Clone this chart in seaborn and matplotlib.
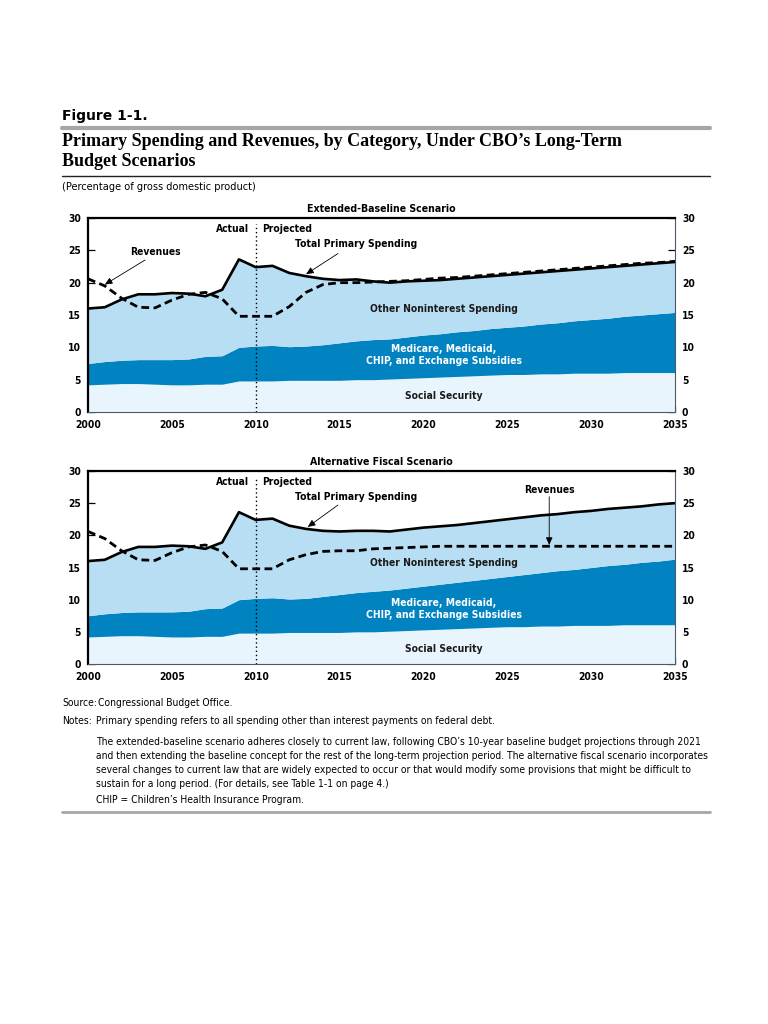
import numpy as np
import pandas as pd
import matplotlib
matplotlib.use("Agg")
import matplotlib.pyplot as plt
import seaborn as sns

years = list(range(2000, 2036))

social_security = [4.2, 4.3, 4.4, 4.4, 4.3, 4.2, 4.2, 4.3, 4.3, 4.8, 4.8, 4.8, 4.9, 4.9, 4.9, 4.9, 5.0, 5.0,
                   5.1, 5.2, 5.3, 5.4, 5.5, 5.6, 5.7, 5.8, 5.8, 5.9, 5.9, 6.0, 6.0, 6.0, 6.1, 6.1, 6.1, 6.1]

# cumulative top of the Medicare/Medicaid band
health_base = [7.5, 7.8, 8.0, 8.1, 8.1, 8.1, 8.2, 8.6, 8.7, 10.0, 10.2, 10.3, 10.1, 10.2, 10.4, 10.7, 11.0, 11.2,
               11.3, 11.6, 11.9, 12.1, 12.4, 12.6, 12.9, 13.1, 13.3, 13.6, 13.8, 14.1, 14.3, 14.5, 14.8, 15.0, 15.2, 15.4]
health_alt = [7.5, 7.8, 8.0, 8.1, 8.1, 8.1, 8.2, 8.6, 8.7, 10.0, 10.2, 10.3, 10.1, 10.2, 10.5, 10.8, 11.1, 11.3,
              11.5, 11.8, 12.1, 12.4, 12.7, 13.0, 13.3, 13.6, 13.9, 14.2, 14.5, 14.7, 15.0, 15.3, 15.5, 15.8, 16.0, 16.3]

total_base = [16.0, 16.2, 17.4, 18.2, 18.2, 18.4, 18.3, 17.9, 18.9, 23.6, 22.4, 22.6, 21.5, 21.0, 20.6, 20.4, 20.5, 20.2,
              20.0, 20.2, 20.3, 20.4, 20.6, 20.8, 21.0, 21.2, 21.4, 21.6, 21.8, 22.0, 22.2, 22.4, 22.6, 22.8, 23.0, 23.2]
total_alt = [16.0, 16.2, 17.4, 18.2, 18.2, 18.4, 18.3, 17.9, 18.9, 23.6, 22.4, 22.6, 21.5, 21.0, 20.7, 20.6, 20.7, 20.7,
             20.6, 20.9, 21.2, 21.4, 21.6, 21.9, 22.2, 22.5, 22.8, 23.1, 23.3, 23.6, 23.8, 24.1, 24.3, 24.5, 24.8, 25.0]

revenue_base = [20.6, 19.5, 17.6, 16.2, 16.1, 17.3, 18.2, 18.5, 17.5, 14.8, 14.8, 14.8, 16.3, 18.5, 19.7, 20.0, 20.0, 20.1,
                20.2, 20.3, 20.5, 20.7, 20.8, 21.0, 21.2, 21.4, 21.6, 21.8, 22.0, 22.2, 22.4, 22.6, 22.8, 23.0, 23.1, 23.3]
revenue_alt = [20.6, 19.5, 17.6, 16.2, 16.1, 17.3, 18.2, 18.5, 17.5, 14.8, 14.8, 14.8, 16.2, 17.0, 17.5, 17.6, 17.6, 17.9,
               18.0, 18.1, 18.2, 18.3, 18.3, 18.3, 18.3, 18.3, 18.3, 18.3, 18.3, 18.3, 18.3, 18.3, 18.3, 18.3, 18.3, 18.3]

y_ticks = [0, 5, 10, 15, 20, 25, 30]
x_ticks = [2000, 2005, 2010, 2015, 2020, 2025, 2030, 2035]

C_SS = "#e9f5fd"
C_HEALTH = "#0083c0"
C_OTHER = "#b8def4"

sns.set_style("ticks")
NARROW = ["Liberation Sans Narrow", "DejaVu Sans"]
plt.rcParams["font.family"] = NARROW
plt.rcParams["font.stretch"] = "condensed"
plt.rcParams["text.color"] = "black"
plt.rcParams["xtick.color"] = "black"
plt.rcParams["ytick.color"] = "black"
plt.rcParams["axes.titlecolor"] = "black"

fig = plt.figure(figsize=(7.68, 10.24), dpi=100)


def fx(px):
    return px / 768


def fy(py):
    return 1 - py / 1024


def panel(rect, title, ss, health, total, rev, ann):
    ax = fig.add_axes(rect)
    df = pd.DataFrame({"year": years, "ss": ss, "health": health, "total": total, "rev": rev})
    ax.fill_between(df["year"], 0, df["ss"], color=C_SS, lw=0)
    ax.fill_between(df["year"], df["ss"], df["health"], color=C_HEALTH, lw=0)
    ax.fill_between(df["year"], df["health"], df["total"], color=C_OTHER, lw=0)
    sns.lineplot(data=df, x="year", y="rev", ax=ax, color="black", lw=2.0, linestyle=(0, (2.8, 1.6)))
    sns.lineplot(data=df, x="year", y="total", ax=ax, color="black", lw=1.9)
    ax.axvline(2010, ymin=0, ymax=0.97, color="black", lw=1.0, linestyle=(0, (1, 2)))

    ax.set_xlim(2000, 2035)
    ax.set_ylim(0, 30)
    ax.set_xticks(x_ticks)
    ax.set_yticks(y_ticks)
    ax.set_xlabel("")
    ax.set_ylabel("")
    ax.tick_params(axis="both", direction="in", length=5, width=0.9, labelsize=7.4, pad=5,
                   left=True, right=True, labelleft=True, labelright=True)
    ax.tick_params(axis="x", length=4, pad=6)
    for lbl in ax.get_xticklabels() + ax.get_yticklabels():
        lbl.set_fontweight("bold")
    for t in ax.yaxis.get_major_ticks():
        t.label2.set_fontweight("bold")
    for s in ["left", "top"]:
        ax.spines[s].set_linewidth(1.6)
        ax.spines[s].set_color("black")
    for s in ["right", "bottom"]:
        ax.spines[s].set_linewidth(0.8)
        ax.spines[s].set_color("#4a5a66")
    ax.set_title(title, fontsize=7.6, fontweight="bold", pad=4)

    tk = dict(fontsize=7.4, fontweight="bold", ha="center", va="center")
    ax.text(2009.6, 28.3, "Actual", ha="right", va="center", fontsize=7.4, fontweight="bold")
    ax.text(2010.4, 28.3, "Projected", ha="left", va="center", fontsize=7.4, fontweight="bold")
    ax.text(2021.2, ann["other_y"], "Other Noninterest Spending", color="#1a1a1a", **tk)
    ax.text(2021.2, ann["health_y"], "Medicare, Medicaid,\nCHIP, and Exchange Subsidies",
            color="white", linespacing=1.25, **tk)
    ax.text(2021.2, 2.4, "Social Security", color="#1a1a1a", **tk)

    arrow = dict(arrowstyle="-|>,head_length=0.45,head_width=0.2", color="black", lw=0.6, shrinkA=0, shrinkB=0)
    ax.text(ann["tps_text"][0], ann["tps_text"][1], "Total Primary Spending", **tk)
    ax.annotate("", xy=ann["tps_xy"], xytext=ann["tps_tail"], arrowprops=arrow)
    ax.text(ann["rev_text"][0], ann["rev_text"][1], "Revenues", **tk)
    ax.annotate("", xy=ann["rev_xy"], xytext=ann["rev_tail"], arrowprops=arrow)
    return ax


panel([fx(88), fy(412), fx(675) - fx(88), fy(218) - fy(412)], "Extended-Baseline Scenario",
      social_security, health_base, total_base, revenue_base,
      dict(other_y=16.0, health_y=8.8, tps_xy=(2013.0, 21.3), tps_text=(2016.0, 26.0),
           tps_tail=(2014.9, 24.5), rev_text=(2004.0, 24.8), rev_xy=(2001.0, 19.7), rev_tail=(2003.4, 23.5)))

panel([fx(88), fy(664), fx(675) - fx(88), fy(471) - fy(664)], "Alternative Fiscal Scenario",
      social_security, health_alt, total_alt, revenue_alt,
      dict(other_y=15.7, health_y=8.6, tps_xy=(2013.1, 21.3), tps_text=(2016.0, 26.0),
           tps_tail=(2014.9, 24.7), rev_text=(2027.5, 27.0), rev_xy=(2027.5, 18.5), rev_tail=(2027.5, 26.0)))

# header
fig.text(fx(62), fy(116), "Figure 1-1.", fontsize=10, fontweight="heavy", family=["DejaVu Sans"],
         stretch="normal", va="center")
fig.add_artist(plt.Line2D([fx(62), fx(710)], [fy(128), fy(128)], color="#a6a6a6", lw=3))
fig.text(fx(62), fy(142), "Primary Spending and Revenues, by Category, Under CBO\u2019s Long-Term",
         fontsize=13, fontweight="bold", family=["Liberation Serif", "DejaVu Serif"], stretch="normal", va="center")
fig.text(fx(62), fy(162), "Budget Scenarios",
         fontsize=13, fontweight="bold", family=["Liberation Serif", "DejaVu Serif"], stretch="normal", va="center")
fig.add_artist(plt.Line2D([fx(62), fx(710)], [fy(176), fy(176)], color="#222222", lw=1.0))
fig.text(fx(62), fy(187), "(Percentage of gross domestic product)", fontsize=7.8, va="center")

# footer
fs = 7.4
fig.text(fx(62), fy(703), "Source:", fontsize=fs, va="center")
fig.text(fx(98), fy(703), "Congressional Budget Office.", fontsize=fs, va="center")
fig.text(fx(62), fy(721), "Notes:", fontsize=fs, va="center")
fig.text(fx(96), fy(721), "Primary spending refers to all spending other than interest payments on federal debt.",
         fontsize=fs, va="center")
para = ("The extended-baseline scenario adheres closely to current law, following CBO\u2019s 10-year baseline budget projections through 2021\n"
        "and then extending the baseline concept for the rest of the long-term projection period. The alternative fiscal scenario incorporates\n"
        "several changes to current law that are widely expected to occur or that would modify some provisions that might be difficult to\n"
        "sustain for a long period. (For details, see Table 1-1 on page 4.)")
fig.text(fx(96), fy(737), para, fontsize=fs, va="top", linespacing=1.5)
fig.text(fx(96), fy(800), "CHIP = Children\u2019s Health Insurance Program.", fontsize=fs, va="center")
fig.add_artist(plt.Line2D([fx(62), fx(710)], [fy(812), fy(812)], color="#a6a6a6", lw=2))

fig.savefig("out.png", dpi=100)
